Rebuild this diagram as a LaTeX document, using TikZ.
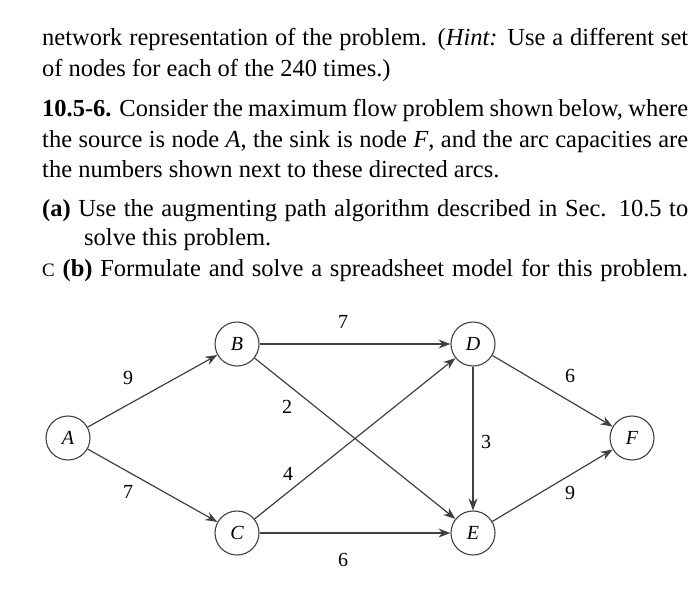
\documentclass[tikz,border=0pt]{standalone}
\usepackage{fontspec}
\setmainfont{Liberation Serif}
\usetikzlibrary{arrows.meta}
\newcommand{\jl}[1]{\makebox[646pt][s]{#1}}
\begin{document}
\begin{tikzpicture}[x=1pt,y=-1pt,
  txt/.style={anchor=base west,inner sep=0pt,font=\fontsize{24.5}{28}\selectfont},
  nd/.style={circle,draw=black!75,line width=1.1pt,minimum size=44pt,inner sep=0pt,font=\fontsize{20}{22}\selectfont\itshape},
  arc/.style={draw=black!75,line width=1.2pt,-{Stealth[length=12pt,width=9pt]}},
  lab/.style={font=\fontsize{20}{22}\selectfont,inner sep=1pt}]
\useasboundingbox (0,0) rectangle (700,595);
\node[txt] (l1) at (42,45) {\jl{network representation of the problem. (\textit{Hint:} Use a different set}};
\node[txt] (l2) at (42,76) {of nodes for each of the 240 times.)};
\node[txt] (l3) at (42,116) {\jl{\textbf{10.5-6.} Consider the maximum flow problem shown below, where}};
\node[txt] (l4) at (42,147) {\jl{the source is node \textit{A}, the sink is node \textit{F}, and the arc capacities are}};
\node[txt] (l5) at (42,177) {the numbers shown next to these directed arcs.};
\node[txt] (l6) at (42,216) {\makebox[646pt][s]{\textbf{(a)} Use the augmenting path algorithm described in Sec. 10.5 to}};
\node[txt] (l7) at (84,245) {solve this problem.};
\node[txt] (l8) at (42,276) {\makebox[646pt][s]{{\fontsize{19}{20}\selectfont C} \textbf{(b)} Formulate and solve a spreadsheet model for this problem.}};
\node[nd] (A) at (68,438) {A};
\node[nd] (B) at (237,344) {B};
\node[nd] (C) at (237,533) {C};
\node[nd] (D) at (473,344) {D};
\node[nd] (E) at (473,533) {E};
\node[nd] (F) at (632,438) {F};
\draw[arc] (A) -- (B);
\draw[arc] (A) -- (C);
\draw[arc] (B) -- (D);
\draw[arc] (B) -- (E);
\draw[arc] (C) -- (D);
\draw[arc] (C) -- (E);
\draw[arc] (D) -- (E);
\draw[arc] (D) -- (F);
\draw[arc] (E) -- (F);
\node[lab] (n1) at (343,322) {7};
\node[lab] (n2) at (128,378) {9};
\node[lab] (n3) at (570,376) {6};
\node[lab] (n4) at (287,407) {2};
\node[lab] (n5) at (486,442) {3};
\node[lab] (n6) at (288,474) {4};
\node[lab] (n7) at (128,492) {7};
\node[lab] (n8) at (570,493) {9};
\node[lab] (n9) at (343,560) {6};
\end{tikzpicture}
\end{document}
